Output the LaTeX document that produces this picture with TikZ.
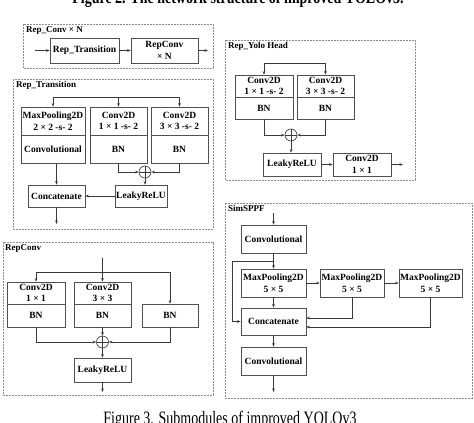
\documentclass[tikz,border=0pt]{standalone}
\usepackage{fontspec}
\setmainfont{Liberation Serif}
\usetikzlibrary{arrows.meta,calc}
\definecolor{boxc}{HTML}{505050}
\definecolor{grpc}{HTML}{8C8C8C}
\definecolor{linec}{HTML}{3A3A3A}
\newcommand\bx[6]{\node[box,minimum width={(#4)-(#2)},minimum height={(#5)-(#3)}] (#1) at ({((#2)+(#4))/2},{((#3)+(#5))/2}) {#6};}
\begin{document}
\begin{tikzpicture}[x=1pt,y=-1pt,
 box/.style={draw=boxc,line width=0.6pt,inner sep=0pt,align=center,font=\bfseries\fontsize{9.5}{11.5}\selectfont},
 grp/.style={draw=grpc,dash pattern=on 2pt off 1pt,line width=0.6pt},
 grplab/.style={anchor=north west,inner sep=0pt,font=\bfseries\fontsize{9}{11}\selectfont},
 arr/.style={draw=linec,line width=0.6pt,-{Stealth[length=3.5pt,width=2.6pt]}},
 ln/.style={draw=linec,line width=0.6pt},
 oplus/.style={circle,draw=linec,line width=0.6pt,minimum size=12pt,inner sep=0pt,
   path picture={\draw[linec,line width=0.6pt] (path picture bounding box.north)--(path picture bounding box.south) (path picture bounding box.west)--(path picture bounding box.east);}}]
\useasboundingbox (0,0) rectangle (474,423);
\clip (0,0) rectangle (474,423);
\fill[white] (0,0) rectangle (474,423);

% titles (cut by the frame)
\node[anchor=base,inner sep=0pt,font=\bfseries\fontsize{14}{16}\selectfont] (t1) at (238,3.5) {\scalebox{1}[1.3]{Figure 2. The network structure of improved YOLOv3.}};
\node[anchor=base,inner sep=0pt,font=\fontsize{14}{16}\selectfont] (cap) at (230,424.5) {\scalebox{1}[1.35]{Figure 3. Submodules of improved YOLOv3}};

% Rep_Conv x N
\draw[grp] (23,24) rectangle (213,68);
\node[grplab] (l1) at (26,26) {Rep\_Conv × N};
\bx{rt}{50}{38}{119}{63}{Rep\_Transition}
\bx{rc}{131}{38}{198}{63}{RepConv\\× N}
\coordinate (in1) at (35,50.5);
\coordinate (out1) at (208,50.5);
\draw[arr] (in1) -- (rt.west);
\draw[arr] (rt) -- (rc);
\draw[arr] (rc.east) -- (out1);

% Rep_Transition
\draw[grp] (13,79) rectangle (213,229);
\node[grplab] (l2) at (16,81) {Rep\_Transition};
\bx{mpT}{21}{107}{85}{135}{MaxPooling2D\\2 × 2 -s- 2}
\bx{mpB}{21}{135}{85}{163}{Convolutional}
\bx{aT}{90}{107}{147}{135}{Conv2D\\1 × 1 -s- 2}
\bx{aB}{90}{135}{147}{163}{BN}
\bx{bT}{151}{107}{208}{135}{Conv2D\\3 × 3 -s- 2}
\bx{bB}{151}{135}{208}{163}{BN}
\node[oplus] (o1) at (145,172) {};
\bx{lr1}{115}{185}{167}{207}{LeakyReLU}
\bx{cat1}{28}{185}{85}{207}{Concatenate}
\coordinate (bus1) at (0,97);
\coordinate (out2) at (57,224);
\draw[ln] (bus1 -| mpT.north) -- (bus1 -| bT.north);
\draw[arr] (bus1 -| mpT.north) -- (mpT.north);
\draw[arr] (bus1 -| aT.north) -- (aT.north);
\draw[arr] (bus1 -| bT.north) -- (bT.north);
\draw[arr] (aB.south) |- (o1.west);
\draw[arr] (bB.south) |- (o1.east);
\draw[arr] (o1.south) -- (o1.south |- lr1.north);
\draw[arr] (lr1.west) -- (cat1.east);
\draw[arr] (cat1.north |- mpB.south) -- (cat1.north);
\draw[arr] (cat1.south) -- (cat1.south |- out2);

% Rep_Yolo Head
\draw[grp] (225,40) rectangle (415,180);
\node[grplab] (l3) at (228,42) {Rep\_Yolo Head};
\bx{yaT}{235}{75}{293}{97}{Conv2D\\1 × 1 -s- 2}
\bx{yaB}{235}{97}{293}{119}{BN}
\bx{ybT}{297}{75}{354}{97}{Conv2D\\3 × 3 -s- 2}
\bx{ybB}{297}{97}{354}{119}{BN}
\coordinate (bus2) at (0,63);
\draw[ln] (bus2 -| yaT.north) -- (bus2 -| ybT.north);
\draw[arr] (bus2 -| yaT.north) -- (yaT.north);
\draw[arr] (bus2 -| ybT.north) -- (ybT.north);
\node[oplus] (o2) at (291,135) {};
\draw[arr] (yaB.south) |- (o2.west);
\draw[arr] (ybB.south) |- (o2.east);
\bx{lr2}{263}{153}{321}{176}{LeakyReLU}
\bx{c2}{333}{153}{391}{176}{Conv2D\\1 × 1}
\coordinate (out3) at (403,164.5);
\draw[arr] (o2.south) -- (o2.south |- lr2.north);
\draw[arr] (lr2) -- (c2);
\draw[arr] (c2.east) -- (out3);

% RepConv
\draw[grp] (3,242) rectangle (213,395);
\node[grplab] (l4) at (5,244) {RepConv};
\bx{raT}{7}{282}{65}{304}{Conv2D\\1 × 1}
\bx{raB}{7}{304}{65}{327}{BN}
\bx{rbT}{74}{282}{131}{304}{Conv2D\\3 × 3}
\bx{rbB}{74}{304}{131}{327}{BN}
\bx{rcB}{142}{304}{198}{327}{BN}
\coordinate (bus3) at (0,272);
\coordinate (in3) at (102.5,258);
\draw[ln] (bus3 -| raT.north) -- (bus3 -| rcB.north);
\draw[arr] (in3) -- (rbT.north);
\draw[arr] (bus3 -| raT.north) -- (raT.north);
\draw[arr] (bus3 -| rcB.north) -- (rcB.north);
\node[oplus] (o3) at (102.5,342) {};
\draw[arr] (raB.south) |- (o3.west);
\draw[arr] (rcB.south) |- (o3.east);
\draw[arr] (rbB.south) -- (o3.north);
\bx{lr3}{74}{358}{131}{382}{LeakyReLU}
\coordinate (out4) at (102.5,392);
\draw[arr] (o3.south) -- (lr3.north);
\draw[arr] (lr3.south) -- (out4);

% SimSPPF
\draw[grp] (225,203) rectangle (472,398);
\node[grplab] (l5) at (228,205) {SimSPPF};
\bx{sc1}{241}{225}{306}{253}{Convolutional}
\bx{mp1}{241}{269}{306}{297}{MaxPooling2D\\5 × 5}
\bx{mp2}{320}{269}{384}{297}{MaxPooling2D\\5 × 5}
\bx{mp3}{399}{269}{462}{297}{MaxPooling2D\\5 × 5}
\bx{cat2}{241}{308}{306}{335}{Concatenate}
\bx{sc2}{241}{347}{306}{375}{Convolutional}
\coordinate (in5) at (273.5,213);
\coordinate (out5) at (273.5,392);
\coordinate (br) at (232,261);
\draw[arr] (in5) -- (sc1.north);
\draw[arr] (sc1.south) -- (mp1.north);
\draw[arr] (br -| sc1.south) -- (br) |- (cat2.west);
\draw[arr] (mp1) -- (mp2);
\draw[arr] (mp2) -- (mp3);
\draw[arr] (mp1.south) -- (cat2.north);
\draw[arr] (mp2.south) |- ([yshift=3.5pt]cat2.east);
\draw[arr] (mp3.south) |- ([yshift=-5.5pt]cat2.east);
\draw[arr] (cat2.south) -- (sc2.north);
\draw[arr] (sc2.south) -- (out5);
\end{tikzpicture}
\end{document}
